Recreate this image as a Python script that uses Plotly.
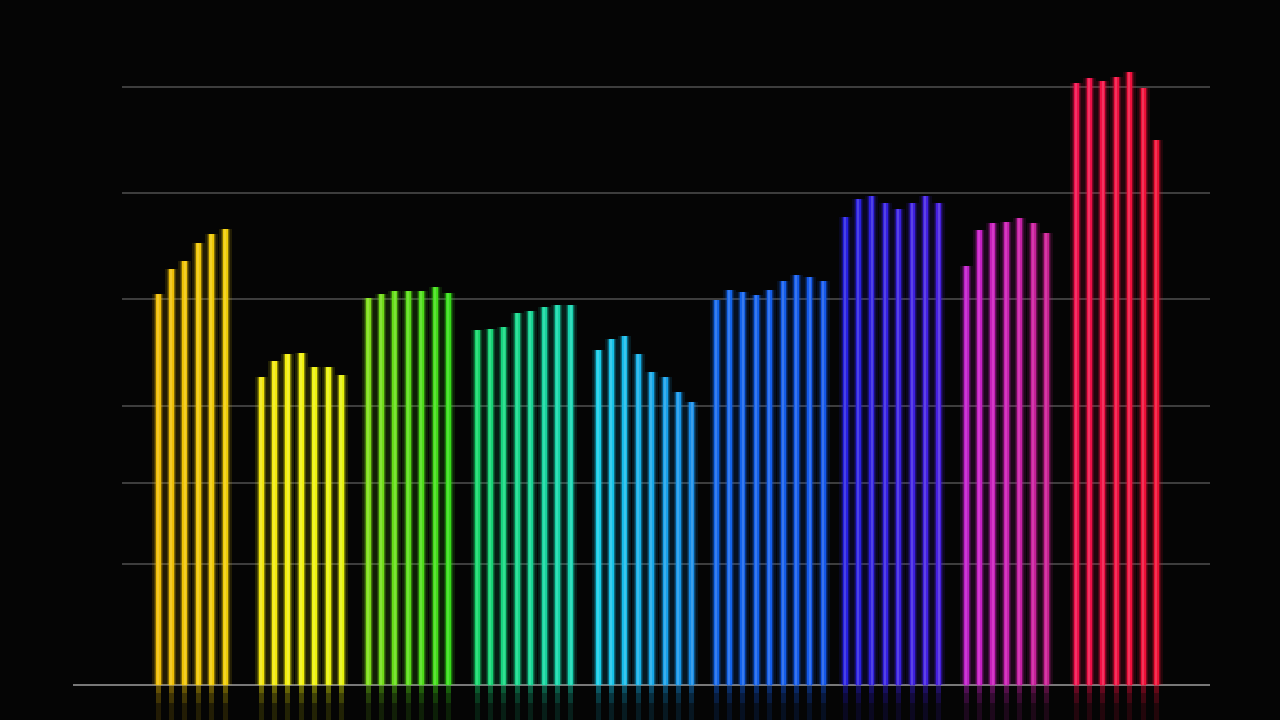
import colorsys
import plotly.graph_objects as go

# ---- data (bar heights, in chart units; baseline = 0) ----
group_1 = [391, 416, 424, 442, 451, 456]
group_2 = [308, 324, 331, 332, 318, 318, 310]
group_3 = [387, 391, 394, 394, 394, 398, 392]
group_4 = [355, 356, 358, 372, 374, 378, 380, 380]
group_5 = [335, 346, 349, 331, 313, 308, 293, 283]
group_6 = [385, 395, 393, 390, 395, 404, 410, 408, 404]
group_7 = [468, 486, 489, 482, 476, 482, 489, 482]
group_8 = [419, 455, 462, 463, 467, 462, 452]
group_9 = [602, 607, 604, 608, 613, 597, 545]
groups = [group_1, group_2, group_3, group_4, group_5, group_6, group_7, group_8, group_9]

grid_values = [121, 202, 279, 386, 492, 598]

# ---- layout / style constants ----
group_starts = [158, 261, 368, 477, 598, 716, 845, 966, 1076]
step = 13.4
base_hues = [49, 60, 100, 158, 197, 219, 247, 308, 347]
hue_spread = [4, 6, 22, 22, 18, 4, 10, 22, 6]
sats = [0.95, 0.90, 0.80, 0.80, 0.82, 0.85, 0.75, 0.72, 0.88]
lights = [0.48, 0.50, 0.48, 0.46, 0.50, 0.50, 0.50, 0.45, 0.50]


def hsl(h, s, l):
    r, g, b = colorsys.hls_to_rgb((h % 360) / 360.0, l, s)
    return "rgb(%d,%d,%d)" % (r * 255, g * 255, b * 255)


xs, ys, cols, cols_light = [], [], [], []
for gi, vals in enumerate(groups):
    n = len(vals)
    for i, v in enumerate(vals):
        xs.append(group_starts[gi] + i * step)
        ys.append(v)
        h = base_hues[gi] + (hue_spread[gi] * (i / max(n - 1, 1)) - hue_spread[gi] / 2)
        cols.append(hsl(h, sats[gi], lights[gi]))
        cols_light.append(hsl(h, sats[gi], min(lights[gi] + 0.18, 0.8)))

fig = go.Figure()

# glow layers
for w, op in [(13, 0.12), (9, 0.20), (7, 0.30)]:
    fig.add_trace(go.Bar(x=xs, y=ys, width=w, marker=dict(color=cols, line_width=0),
                         opacity=op, hoverinfo="skip", showlegend=False))
# core
fig.add_trace(go.Bar(x=xs, y=ys, width=5, marker=dict(color=cols, line_width=0),
                     opacity=1.0, hoverinfo="skip", showlegend=False))
fig.add_trace(go.Bar(x=xs, y=ys, width=1.6, marker=dict(color=cols_light, line_width=0),
                     opacity=0.45, hoverinfo="skip", showlegend=False))

# reflection below baseline
for depth, op in [(8, 0.20), (18, 0.15), (35, 0.12)]:
    fig.add_trace(go.Bar(x=xs, y=[-depth] * len(xs), width=5,
                         marker=dict(color=cols, line_width=0),
                         opacity=op, hoverinfo="skip", showlegend=False))

shapes = []
for gv in grid_values:
    shapes.append(dict(type="line", xref="x", yref="y", x0=122, x1=1210, y0=gv, y1=gv,
                       line=dict(color="rgba(130,130,130,0.45)", width=2), layer="below"))
shapes.append(dict(type="line", xref="x", yref="y", x0=73, x1=1210, y0=0, y1=0,
                   line=dict(color="rgba(170,170,170,0.7)", width=2), layer="below"))

fig.update_layout(
    width=1280, height=720,
    margin=dict(l=73, r=70, t=0, b=0),
    paper_bgcolor="#050505",
    plot_bgcolor="#050505",
    barmode="overlay",
    bargap=0,
    showlegend=False,
    shapes=shapes,
    xaxis=dict(range=[73, 1210], visible=False, fixedrange=True),
    yaxis=dict(range=[-35, 685], visible=False, fixedrange=True),
)

fig.write_html(
    "out.html",
    config={"displayModeBar": False},
    post_script="document.body.style.margin='0';document.body.style.background='#050505';",
)
